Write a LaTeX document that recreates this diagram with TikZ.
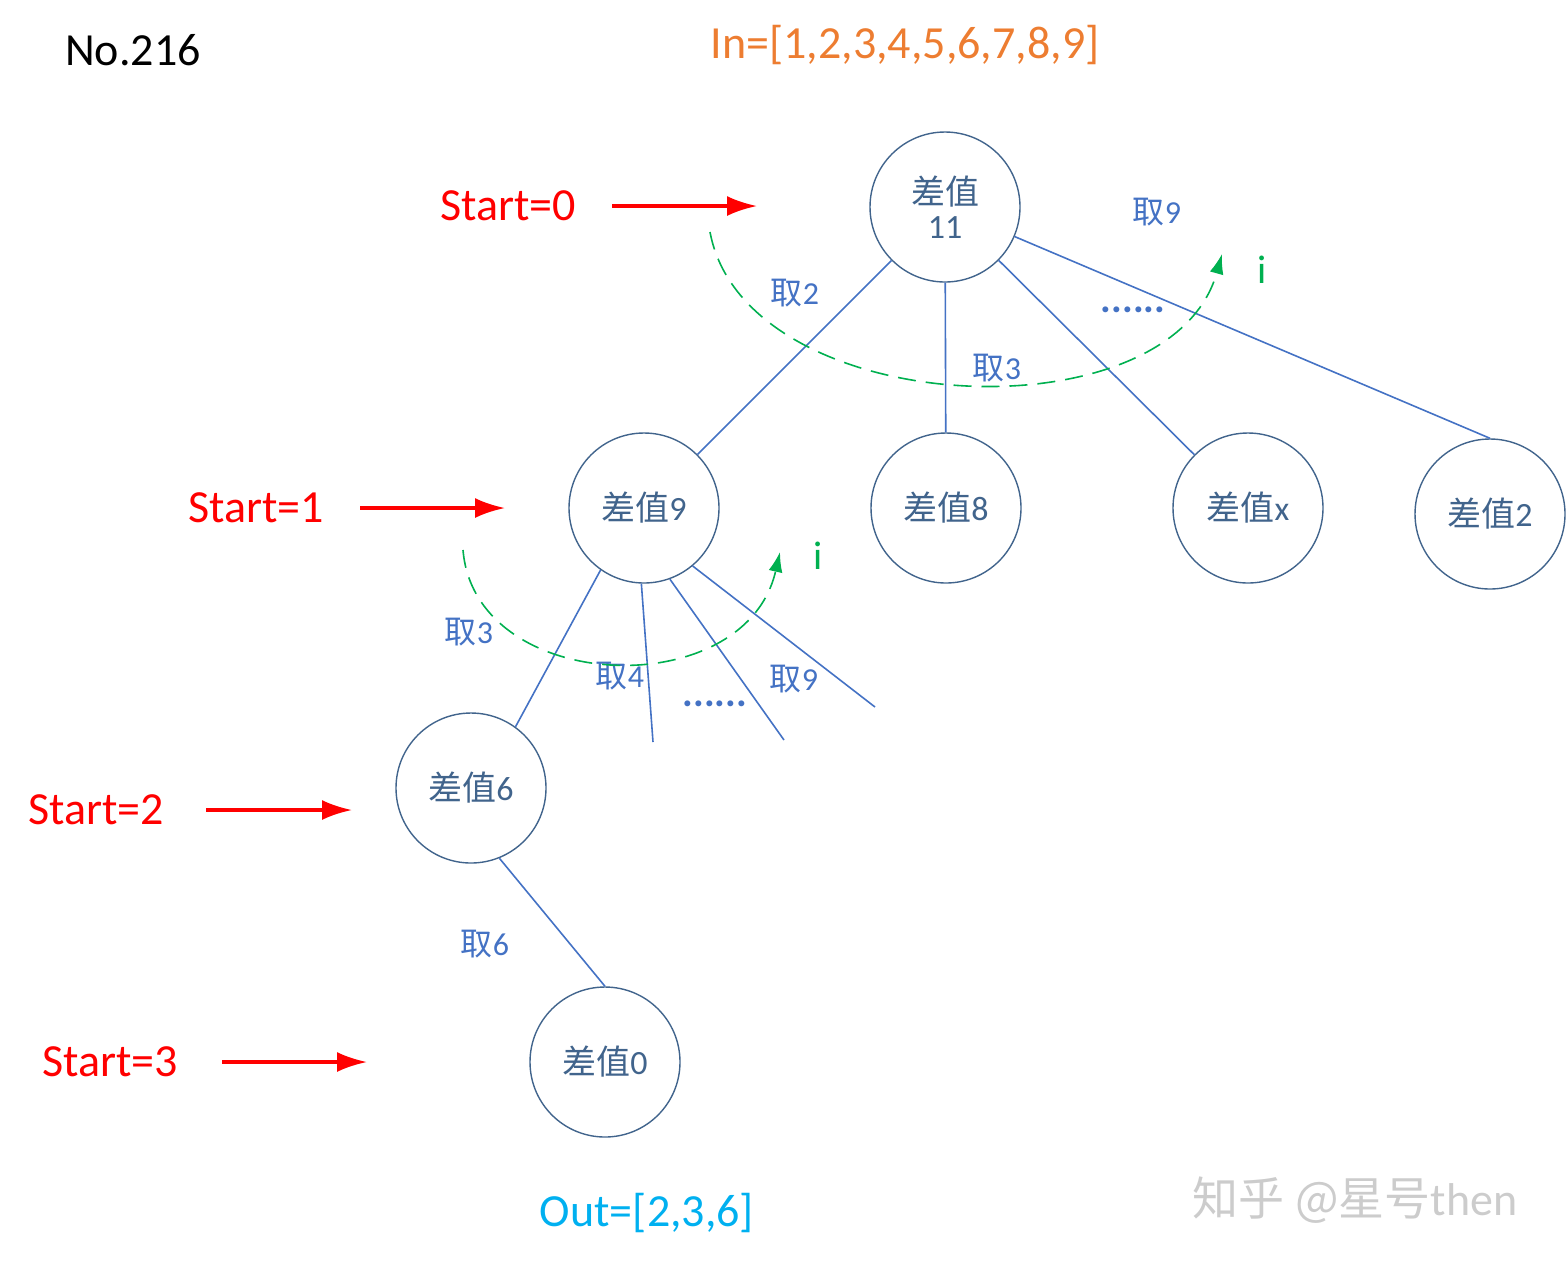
\documentclass[tikz,border=0pt]{standalone}
\usepackage{fontspec}
\setmainfont{Carlito}
\newfontfamily\cjk{Noto Sans CJK SC}
\usetikzlibrary{arrows.meta}
\definecolor{blu}{RGB}{68,114,196}
\definecolor{cblu}{RGB}{65,100,140}
\definecolor{grn}{RGB}{0,176,80}
\definecolor{org}{RGB}{237,125,49}
\definecolor{cyn}{RGB}{0,176,240}
\tikzset{
 tn/.style={circle,draw=cblu,line width=0.7pt,minimum size=75pt,inner sep=0pt,text=cblu,font=\fontsize{17}{19}\selectfont},
 ed/.style={blu,line width=0.8pt},
 lb/.style={text=blu,font=\fontsize{16}{18}\selectfont},
 st/.style={text=red,font=\fontsize{23}{25}\selectfont},
 ra/.style={red,line width=1.6pt,-{Latex[length=15pt,width=10pt]}},
 ga/.style={grn,line width=0.8pt,dash pattern=on 9pt off 5pt,-{Latex[length=10pt,width=7pt]}},
 dots/.style={blu,font=\bfseries\fontsize{20}{20}\selectfont}
}
\begin{document}
\begin{tikzpicture}[x=0.5pt,y=-0.5pt]
\useasboundingbox (0,0) rectangle (1568,1266);
\node[font=\fontsize{23}{25}\selectfont] (no) at (133,50) {No.216};
\node[text=org,font=\fontsize{23}{25}\selectfont] (in) at (905,45) {In=[1,2,3,4,5,6,7,8,9]};
\node[text=cyn,font=\fontsize{23}{25}\selectfont] (out) at (647,1213) {Out=[2,3,6]};
\node[text=black!20,font=\fontsize{23}{25}\selectfont] (wm) at (1355,1200) {{\cjk 知乎 @星号}then};

\node[tn,align=center] (r) at (945,207) {{\cjk 差值}\\[-2pt]11};
\node[tn] (n9) at (644,508) {{\cjk 差值}9};
\node[tn] (n8) at (946,508) {{\cjk 差值}8};
\node[tn] (nx) at (1248,508) {{\cjk 差值}x};
\node[tn] (n2) at (1490,514) {{\cjk 差值}2};
\node[tn] (n6) at (471,788) {{\cjk 差值}6};
\node[tn] (n0) at (605,1062) {{\cjk 差值}0};

\draw[ed] (r) -- (n9);
\draw[ed] (r) -- (n8);
\draw[ed] (r) -- (nx);
\draw[ed] (r) -- (n2.north);
\draw[ed] (n9.-125) -- (n6.54);
\draw[ed] (n6.-68) -- (n0.north);
\coordinate (e1) at (653,742);
\coordinate (e2) at (784,740);
\coordinate (e3) at (875,707);
\draw[ed] (n9.-92) -- (e1);
\draw[ed] (n9.-70) -- (e2);
\draw[ed] (n9.-50) -- (e3);

\node[lb] (l1) at (795,293) {{\cjk 取}2};
\node[lb] (l2) at (997,368) {{\cjk 取}3};
\node[lb] (l3) at (1157,212) {{\cjk 取}9};
\node[dots] (d1) at (1133,310) {......};
\node[lb] (l4) at (469,632) {{\cjk 取}3};
\node[lb] (l5) at (620,676) {{\cjk 取}4};
\node[lb] (l6) at (794,679) {{\cjk 取}9};
\node[dots] (d2) at (715,704) {......};
\node[lb] (l7) at (485,944) {{\cjk 取}6};

\node[text=grn,font=\fontsize{20}{22}\selectfont] (i1) at (1262,270) {i};
\node[text=grn,font=\fontsize{20}{22}\selectfont] (i2) at (818,556) {i};
\coordinate (g1s) at (710,232); \coordinate (g1e) at (1222,254);
\coordinate (g2s) at (463,550); \coordinate (g2e) at (780,552);
\draw[ga] (g1s) .. controls (745,420) and (1170,440) .. (g1e);
\draw[ga] (g2s) .. controls (475,695) and (745,705) .. (g2e);

\node[st] (s0) at (508,206) {Start=0};
\node[st] (s1) at (256,508) {Start=1};
\node[st] (s2) at (96,810) {Start=2};
\node[st] (s3) at (110,1062) {Start=3};
\coordinate (a0) at (757,206); \coordinate (a1) at (505,508);
\coordinate (a2) at (352,810); \coordinate (a3) at (367,1062);
\draw[ra] (612,206) -- (a0);
\draw[ra] (360,508) -- (a1);
\draw[ra] (206,810) -- (a2);
\draw[ra] (222,1062) -- (a3);
\end{tikzpicture}
\end{document}
